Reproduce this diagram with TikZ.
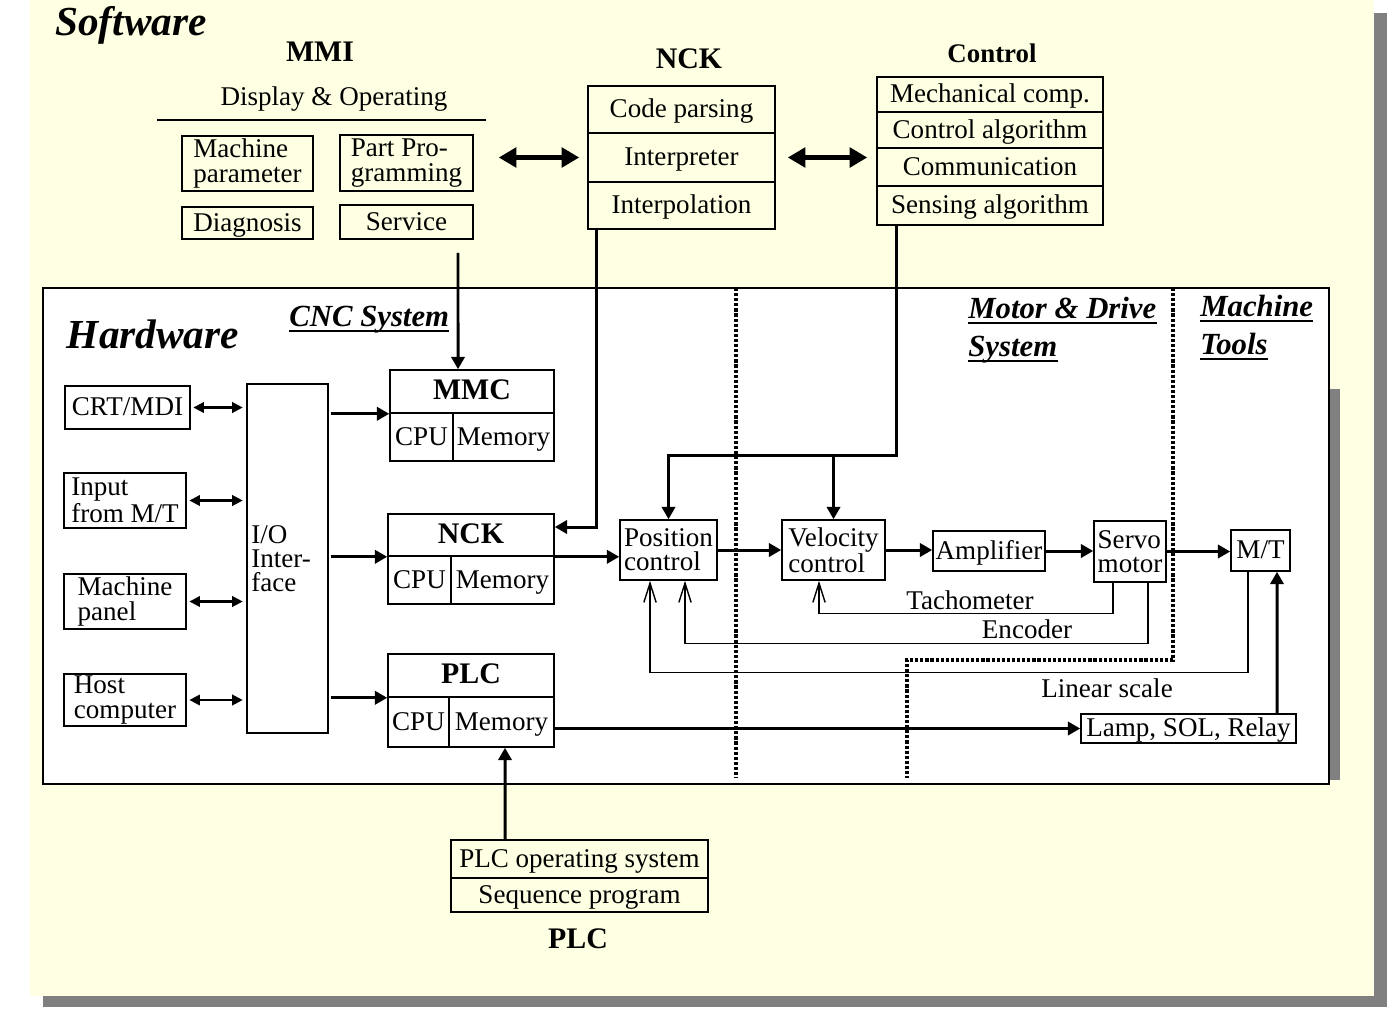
\documentclass[tikz,border=0pt]{standalone}
\usepackage{fontspec}
\setmainfont{Liberation Serif}
\usetikzlibrary{arrows.meta,positioning}
\definecolor{swyellow}{HTML}{FFFFE3}
\definecolor{shadowgray}{HTML}{808080}

\begin{document}
\begin{tikzpicture}[x=0.02cm,y=-0.02cm,
  txt/.style={font=\fontsize{15.4}{13.8}\selectfont,inner sep=0pt},
  box/.style={draw,line width=0.9pt,txt,inner sep=1pt,align=center},
  one/.style={box,text height=10.8pt,text depth=1.2pt},
  lbox/.style={box,align=left},
  title/.style={font=\fontsize{17}{17}\selectfont\bfseries,inner sep=0pt},
  head/.style={font=\fontsize{23.5}{23.5}\selectfont\bfseries\itshape,inner sep=0pt},
  sub/.style={font=\fontsize{17.5}{17.5}\selectfont\bfseries\itshape,inner sep=0pt,anchor=base west},
  thk/.style={line width=1.7pt,-{Triangle[length=7pt,width=7.5pt]}},
  harr/.style={line width=1.2pt,{Triangle[length=6pt,width=6pt]}-{Triangle[length=6pt,width=6pt]}},
  dbl/.style={line width=2.8pt,{Triangle[length=10pt,width=11pt]}-{Triangle[length=10pt,width=11pt]}},
  fb/.style={line width=0.8pt,-{Straight Barb[length=11pt,width=7pt]}},
  sep/.style={line width=1.9pt,dash pattern=on 1.8pt off 1.1pt}]
  \useasboundingbox (0,0) rectangle (1391,1014);
  % background and shadows
  \fill[shadowgray] (43,13) rectangle (1387,1007);
  \fill[swyellow] (30,0) rectangle (1374,996);
  \fill[shadowgray] (1329,389) rectangle (1340,780);
  \draw[line width=0.9pt,fill=white] (43,288) rectangle (1329,784);

  % software side
  \node[head] (swlabel) at (131,25) {Software};
  \node[title] (mmititle) at (320,52) {MMI};
  \node[txt] (dispop) at (334,99) {Display \& Operating};
  \draw[line width=0.6pt] (157,120) -- (486,120);
  \node[lbox,minimum width=2.62cm,minimum height=1.1cm] (mpar) at (247.5,163.5) {Machine\\parameter};
  \node[lbox,minimum width=2.66cm,minimum height=1.12cm] (ppro) at (406.5,163) {Part Pro-\\gramming};
  \node[one,minimum width=2.62cm,minimum height=0.64cm] (diag) at (247.5,223) {Diagnosis};
  \node[one,minimum width=2.66cm,minimum height=0.68cm] (serv) at (406.5,222) {Service};

  \node[title] (ncktitle) at (689,59) {NCK};
  \node[one,minimum width=3.74cm,minimum height=0.94cm] (cpar) at (681.5,109.5) {Code parsing};
  \node[one,minimum width=3.74cm,minimum height=0.98cm] (intp) at (681.5,157.5) {Interpreter};
  \node[one,minimum width=3.74cm,minimum height=0.94cm] (ipol) at (681.5,205.5) {Interpolation};

  \node[title,font=\fontsize{15.3}{15}\selectfont\bfseries] (ctltitle) at (992,53) {Control};
  \node[one,minimum width=4.52cm,minimum height=0.7cm] (ctla) at (990,94.5) {Mechanical comp.};
  \node[one,minimum width=4.52cm,minimum height=0.72cm] (ctlb) at (990,130) {Control algorithm};
  \node[one,minimum width=4.52cm,minimum height=0.76cm] (ctlc) at (990,167) {Communication};
  \node[one,minimum width=4.52cm,minimum height=0.78cm] (ctld) at (990,205.5) {Sensing algorithm};

  \draw[dbl,shorten <=0.5cm,shorten >=0.16cm] (ppro.east |- intp.west) -- (intp.west);
  \draw[dbl,shorten <=0.24cm,shorten >=0.18cm] (intp.east) -- (intp.east -| ctlc.west);

  % hardware side
  \node[head] (hwlabel) at (153,334) {Hardware};
  \node[sub] (cnc) at (289,326) {CNC System};
  \node[sub] (md1) at (968,318) {Motor \& Drive};
  \node[sub] (md2) at (968,356) {System};
  \node[sub] (mt1) at (1200,316) {Machine};
  \node[sub] (mt2) at (1200,354) {Tools};
  \foreach \n in {cnc,md1,md2,mt1,mt2}
    \draw[line width=1.1pt] ([yshift=-2.6pt]\n.base west) -- ([yshift=-2.6pt]\n.base east);
  \draw[sep] (736,288) -- (736,778);
  \draw[sep] (1173,288) -- (1173,660) -- (907,660) -- (907,778);

  \node[one,minimum width=2.5cm,minimum height=0.86cm] (crt) at (127.5,407.5) {CRT/MDI};
  \node[lbox,minimum width=2.44cm,minimum height=1.1cm] (inmt) at (125,500.5) {Input\\from M/T};
  \node[lbox,minimum width=2.44cm,minimum height=1.1cm] (mpan) at (125,601.5) {Machine\\panel};
  \node[lbox,minimum width=2.44cm,minimum height=1.04cm] (host) at (125,700) {Host\\computer};
  \node[box,minimum width=1.62cm,minimum height=6.98cm,text width=1.45cm,align=left] (io) at (287.5,558.5) {I/O\\Inter-\\face};
  \foreach \s in {crt,inmt,mpan,host}
    \draw[harr,shorten <=1.5pt,shorten >=2pt] (\s.east) -- (\s.east -| io.west);

  \node[one,minimum width=3.28cm,minimum height=0.86cm,font=\fontsize{17}{17}\selectfont\bfseries] (mmc) at (472,391.5) {MMC};
  \node[one,minimum width=1.26cm,minimum height=0.96cm] (mmccpu) at (421.5,437) {CPU};
  \node[one,minimum width=2.02cm,minimum height=0.96cm] (mmcmem) at (503.5,437) {Memory};
  \node[one,minimum width=3.32cm,minimum height=0.84cm,font=\fontsize{17}{17}\selectfont\bfseries] (nck) at (471,535) {NCK};
  \node[one,minimum width=1.26cm,minimum height=0.96cm] (nckcpu) at (419.5,580) {CPU};
  \node[one,minimum width=2.06cm,minimum height=0.96cm] (nckmem) at (502.5,580) {Memory};
  \node[one,minimum width=3.32cm,minimum height=0.86cm,font=\fontsize{17}{17}\selectfont\bfseries] (plc) at (471,675.5) {PLC};
  \node[one,minimum width=1.22cm,minimum height=1.0cm] (plccpu) at (418.5,722) {CPU};
  \node[one,minimum width=2.1cm,minimum height=1.0cm] (plcmem) at (501.5,722) {Memory};
  \foreach \t in {mmc,nck,plc}
    \draw[thk,shorten <=1pt] (io.east |- \t.south west) -- (\t.south west);

  \node[lbox,minimum width=1.94cm,minimum height=1.2cm] (pos) at (668.5,550) {Position\\control};
  \node[lbox,minimum width=2.06cm,minimum height=1.2cm] (vel) at (833.5,550) {Velocity\\control};
  \node[one,minimum width=2.24cm,minimum height=0.8cm,inner sep=0pt] (amp) at (989,551) {Amplifier};
  \node[lbox,minimum width=1.44cm,minimum height=1.22cm,inner sep=0pt] (servo) at (1130,551.5) {Servo\\motor};
  \node[one,minimum width=1.18cm,minimum height=0.82cm] (mt) at (1260.5,550.5) {M/T};
  \node[one,minimum width=4.3cm,minimum height=0.58cm,inner sep=0pt] (lamp) at (1188.5,728.5) {Lamp, SOL, Relay};

  \node[one,minimum width=5.14cm,minimum height=0.76cm] (plcos) at (579.5,859) {PLC operating system};
  \node[one,minimum width=5.14cm,minimum height=0.68cm] (seq) at (579.5,895) {Sequence program};
  \node[title] (plctitle) at (578,939) {PLC};

  % software to hardware
  \draw[thk] ([xshift=1.03cm,yshift=-0.26cm]serv.south) -- ([xshift=-0.28cm]mmc.north);
  \draw[thk] ([xshift=0.18cm]ipol.south west) |- ([yshift=0.16cm]nck.east);
  \draw[thk] ([xshift=0.4cm]ctld.south west) |- ([yshift=1.28cm]pos.north) -- (pos.north);
  \draw[thk] ([yshift=1.28cm]vel.north) -- (vel.north);
  \draw[thk] ([xshift=-1.49cm]plcos.north) -- ([xshift=0.07cm]plcmem.south);

  % drive chain
  \draw[thk] (nck.south east) -- (nck.south east -| pos.west);
  \draw[thk] (pos.east) -- (vel.west);
  \draw[thk] (vel.east) -- (vel.east -| amp.west);
  \draw[thk] (amp.east) -- (amp.east -| servo.west);
  \draw[thk] (servo.east) -- (servo.east -| mt.west);
  \draw[thk] (plcmem.east |- lamp.west) -- (lamp.west);
  \draw[thk] ([xshift=1.77cm]lamp.north) -- ([xshift=0.33cm]mt.south);

  % feedback
  \draw[fb] ([xshift=-0.34cm]servo.south) |- ([xshift=-0.29cm,yshift=-0.66cm]vel.south) -- ([xshift=-0.29cm]vel.south);
  \draw[fb] ([xshift=0.36cm]servo.south) |- ([xshift=0.33cm,yshift=-1.26cm]pos.south) -- ([xshift=0.33cm]pos.south);
  \draw[fb] ([xshift=-0.25cm]mt.south) |- ([xshift=-0.37cm,yshift=-1.84cm]pos.south) -- ([xshift=-0.37cm]pos.south);
  \node[txt] (tacho) at (970,600) {Tachometer};
  \node[txt] (enc) at (1027,629) {Encoder};
  \node[txt] (linsc) at (1107,688) {Linear scale};
\end{tikzpicture}
\end{document}
